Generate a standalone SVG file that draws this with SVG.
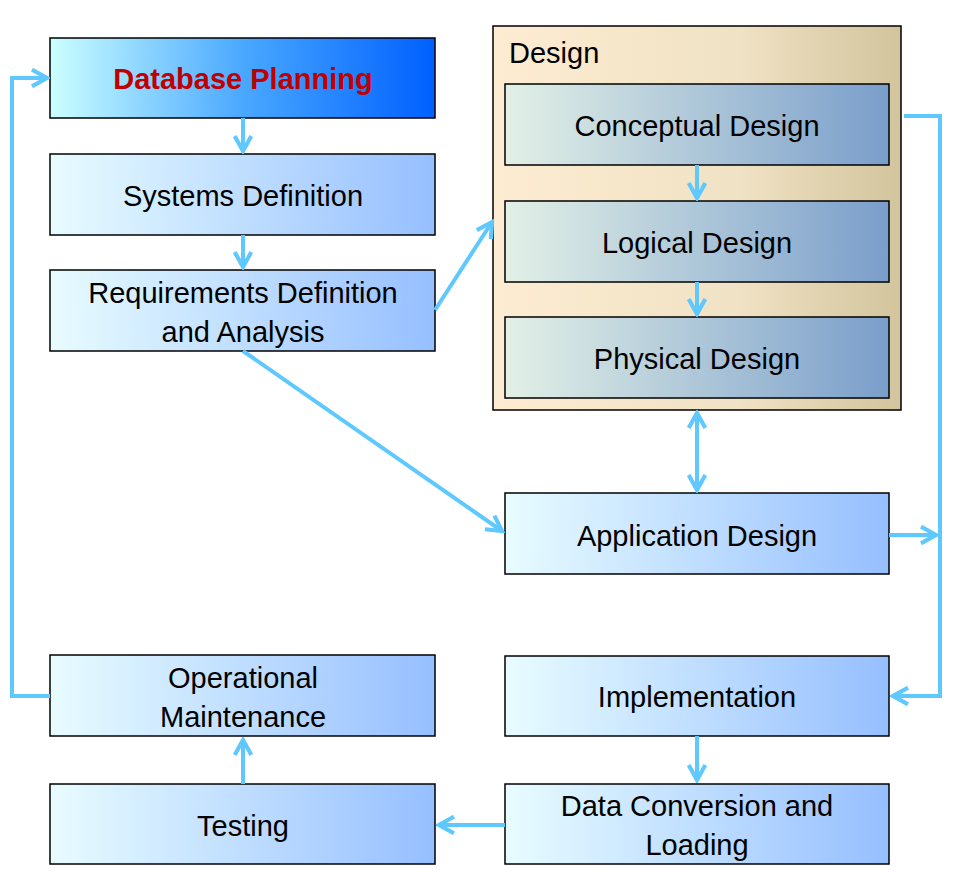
<svg xmlns="http://www.w3.org/2000/svg" width="956" height="886" viewBox="0 0 956 886">
<defs>
<linearGradient id="gb" x1="0" x2="1"><stop offset="0" stop-color="#e8fcff"/><stop offset="1" stop-color="#96bfff"/></linearGradient>
<linearGradient id="gp" x1="0" x2="1"><stop offset="0" stop-color="#ccffff"/><stop offset="0.5" stop-color="#4aa8ff"/><stop offset="1" stop-color="#0060ff"/></linearGradient>
<linearGradient id="gd" x1="0" x2="1"><stop offset="0" stop-color="#e2f0e6"/><stop offset="1" stop-color="#7a9ecb"/></linearGradient>
<linearGradient id="gc" x1="0" x2="1"><stop offset="0" stop-color="#fdecd2"/><stop offset="0.6" stop-color="#f0e2c4"/><stop offset="1" stop-color="#d2c49c"/></linearGradient>
<marker id="ah" viewBox="0 0 12 12" refX="10" refY="6" markerWidth="5" markerHeight="5" orient="auto-start-reverse" markerUnits="strokeWidth"><path d="M1,1 L10,6 L1,11" fill="none" stroke="#5fc8ff" stroke-width="2.5"/></marker>
</defs>
<style>
.b{fill:url(#gb);stroke:#000;stroke-width:1.5}
.d{fill:url(#gd);stroke:#000;stroke-width:1.5}
text{font-family:"Liberation Sans",Arial,sans-serif;font-size:29px;fill:#000;text-anchor:middle}
.c path{fill:none;stroke:#5fc8ff;stroke-width:4}
</style>
<g id="design"><rect x="493" y="26" width="408" height="384" fill="url(#gc)" stroke="#000" stroke-width="1.5"/><text x="509" y="63" style="text-anchor:start">Design</text></g>
<g id="planning"><rect x="50" y="38" width="385" height="80" fill="url(#gp)" stroke="#000" stroke-width="1.5"/><text x="243" y="89" style="fill:#c00000;font-weight:bold">Database Planning</text></g>
<g id="sysdef"><rect class="b" x="50" y="154" width="385" height="81"/><text x="243" y="206">Systems Definition</text></g>
<g id="req"><rect class="b" x="50" y="270" width="385" height="81"/><text x="243" y="303">Requirements Definition</text><text x="243" y="342">and Analysis</text></g>
<g id="concept"><rect class="d" x="505" y="84" width="384" height="81"/><text x="697" y="136">Conceptual Design</text></g>
<g id="logical"><rect class="d" x="505" y="201" width="384" height="81"/><text x="697" y="253">Logical Design</text></g>
<g id="physical"><rect class="d" x="505" y="317" width="384" height="81"/><text x="697" y="369">Physical Design</text></g>
<g id="app"><rect class="b" x="505" y="493" width="384" height="81"/><text x="697" y="546">Application Design</text></g>
<g id="impl"><rect class="b" x="505" y="656" width="384" height="80"/><text x="697" y="707">Implementation</text></g>
<g id="conv"><rect class="b" x="505" y="784" width="384" height="80"/><text x="697" y="816">Data Conversion and</text><text x="697" y="855">Loading</text></g>
<g id="testing"><rect class="b" x="50" y="784" width="385" height="80"/><text x="243" y="836">Testing</text></g>
<g id="opmaint"><rect class="b" x="50" y="655" width="385" height="81"/><text x="243" y="688">Operational</text><text x="243" y="727">Maintenance</text></g>
<g class="c" id="connectors">
<path d="M243,118 V151" marker-end="url(#ah)"/>
<path d="M243,235 V267" marker-end="url(#ah)"/>
<path d="M697,165 V198" marker-end="url(#ah)"/>
<path d="M697,282 V314" marker-end="url(#ah)"/>
<path d="M435,310 L492,222" marker-end="url(#ah)"/>
<path d="M243,351 L502,531" marker-end="url(#ah)"/>
<path d="M697,413 V490" marker-start="url(#ah)" marker-end="url(#ah)"/>
<path d="M904,116 H940 V696 H893" marker-end="url(#ah)"/>
<path d="M889,535 H936" marker-end="url(#ah)"/>
<path d="M697,736 V780" marker-end="url(#ah)"/>
<path d="M505,825 H439" marker-end="url(#ah)"/>
<path d="M243,784 V740" marker-end="url(#ah)"/>
<path d="M50,696 H12 V78 H47" marker-end="url(#ah)"/>
</g>
</svg>
